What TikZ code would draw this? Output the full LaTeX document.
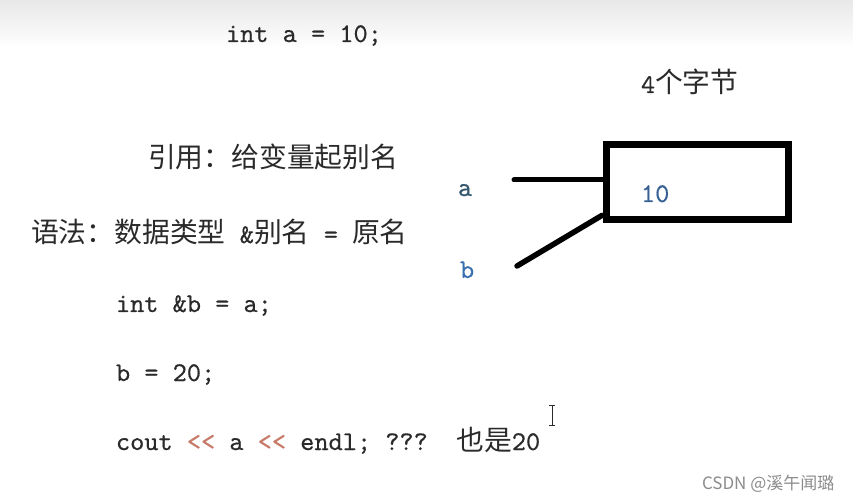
\documentclass[tikz,border=0pt]{standalone}
\usepackage{fontspec}
\setmonofont{lmmono10-regular.otf}[FakeBold=0.4]
\newfontfamily\cjk{Noto Sans CJK SC}[Scale=1.03]
\newfontfamily\wmfont{Noto Sans CJK SC}
\usetikzlibrary{positioning,calc}

\definecolor{ink}{HTML}{2A2A2A}
\definecolor{shift}{HTML}{C87A68}
\definecolor{bname}{HTML}{3A6FB0}
\definecolor{aname}{HTML}{35586E}

\begin{document}
\begin{tikzpicture}[
    x=1pt, y=-1pt,
    every node/.style={inner sep=0pt, outer sep=0pt},
    code/.style={anchor=base west, text=ink, font=\fontsize{27}{31}\selectfont\ttfamily},
    cell/.style={draw, line width=7pt, minimum width=182pt, minimum height=75.5pt},
    link/.style={line width=5pt, line cap=round}
  ]
    \useasboundingbox (0,0) rectangle (853,502);
    \fill[white] (0,0) rectangle (853,502);
    \shade[top color=black!9, bottom color=white] (0,0) rectangle (853,48);

    \node[code] (decl) at (226,42) {int a = 10;};
    \node[code] (defn) at (148,168) {{\cjk 引用：给变量起别名}};
    \node[code] (rule) at (31,243) {{\cjk 语法：数据类型} \&{\cjk 别名} = {\cjk 原名}};
    \node[code] (ref) at (116,312) {int \&b = a;};
    \node[code] (assign) at (116,381) {b = 20;};
    \node[code] (print) at (116,450) {cout \textcolor{shift}{<{}<} a \textcolor{shift}{<{}<} endl; ???\ \ {\cjk 也是}20};

    \node[code] (size) at (641,93) {4{\cjk 个字节}};
    \node[cell] (mem) at (697,182.25) {};
    \node[code] (val) at (641,202) {\textcolor{bname!80!ink}{10}};
    \node[code, text=aname] (alias a) at (458,196) {a};
    \node[code, text=bname] (alias b) at (460,278) {b};

    \coordinate (astart) at (514,180);
    \coordinate (bstart) at (517,266);
    \draw[link] (astart) -- (astart -| mem.west);
    \draw[link, line width=5.5pt] (bstart) -- ([xshift=-4pt]mem.200);

    \draw[ink, line width=1pt] (552,405) -- (552,425)
      (549,405) -- (555,405) (549,425) -- (555,425);

    \node[anchor=base west, text=black!45, font=\fontsize{17}{20}\wmfont] (credit) at (702,489) {CSDN @溪午闻璐};
\end{tikzpicture}
\end{document}
